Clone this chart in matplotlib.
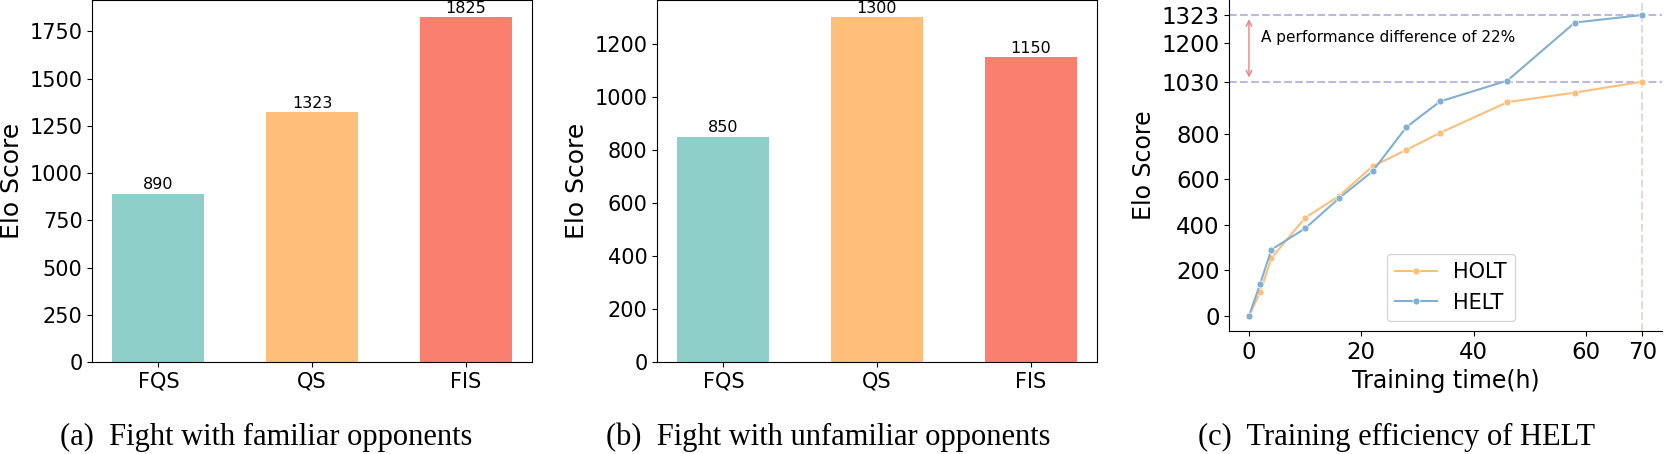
import numpy as np
import matplotlib
matplotlib.use("Agg")
import matplotlib.pyplot as plt

# bar data
methods = ['FQS', 'QS', 'FIS']
elo_familiar = [890, 1323, 1825]
elo_unfamiliar = [850, 1300, 1150]
bar_colors = ['#8ECFC9', '#FFBE7A', '#FA7F6F']

# training curves
hours = [0, 2, 4, 10, 16, 22, 28, 34, 46, 58, 70]
holt_elo = [0, 105, 255, 432, 527, 658, 730, 805, 940, 982, 1030]
helt_elo = [0, 142, 292, 385, 517, 636, 830, 943, 1035, 1290, 1323]
c_yticks = [0, 200, 400, 600, 800, 1030, 1200, 1323]

captions = ['(a)  Fight with familiar opponents',
            '(b)  Fight with unfamiliar opponents',
            '(c)  Training efficiency of HELT']

W, H = 1665, 454
fig = plt.figure(figsize=(W / 100, H / 100), dpi=100)


def bar_panel(rect, values):
    ax = fig.add_axes(rect)
    x = np.arange(len(methods))
    bars = ax.bar(x, values, width=0.6, color=bar_colors)
    ax.bar_label(bars, labels=[str(v) for v in values], padding=1, fontsize=11.5)
    ax.set_xticks(x)
    ax.set_xticklabels(methods)
    ax.tick_params(labelsize=15)
    ax.set_ylabel('Elo Score', fontsize=18)
    return ax


ax1 = bar_panel([92.3 / W, (H - 362) / H, 439.4 / W, 362 / H], elo_familiar)
ax2 = bar_panel([657.3 / W, (H - 362) / H, 439.4 / W, 362 / H], elo_unfamiliar)

# (c) training efficiency
ax3 = fig.add_axes([1229.3 / W, (H - 331) / H, 432.7 / W, 331 / H])
ax3.axhline(1323, color='#BEB8DC', ls='--', lw=1.5, zorder=1)
ax3.axhline(1030, color='#BEB8DC', ls='--', lw=1.5, zorder=1)
ax3.axvline(70, color='#E7DAD2', ls='--', lw=1.5, zorder=1)
ax3.plot(hours, holt_elo, color='#FFBE7A', marker='o', ms=5, mec='white',
         mew=0.5, lw=1.5, label='HOLT', zorder=3)
ax3.plot(hours, helt_elo, color='#82B0D2', marker='o', ms=5, mec='white',
         mew=0.5, lw=1.5, label='HELT', zorder=3)
ax3.annotate('', xy=(0, 1323), xytext=(0, 1030),
             arrowprops=dict(arrowstyle='<->', color='#F08080', lw=1,
                             shrinkA=3, shrinkB=3))
ax3.text(2.2, 1222, 'A performance difference of 22%', fontsize=11,
         va='center', ha='left')
ax3.set_xlim(-3.5, 73.5)
ax3.set_ylim(-66, 1389)
ax3.set_xticks([0, 20, 40, 60, 70])
ax3.set_yticks(c_yticks)
ax3.tick_params(labelsize=16.5)
ax3.set_xlabel('Training time(h)', fontsize=17)
ax3.set_ylabel('Elo Score', fontsize=17)
ax3.spines['top'].set_visible(False)
ax3.spines['right'].set_visible(False)
ax3.legend(loc='lower left', bbox_to_anchor=(0.364, 0.03), borderaxespad=0,
           fontsize=15)

for cx, text in zip([266, 828.5, 1397], captions):
    fig.text(cx / W, (H - 445) / H, text, ha='center', va='baseline',
             fontsize=22, family='Liberation Serif')

fig.savefig('out.png', dpi=100)
